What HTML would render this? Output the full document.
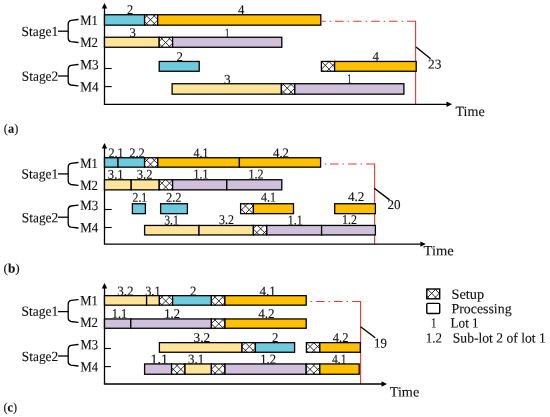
<!DOCTYPE html>
<html><head><meta charset="utf-8"><title>Gantt</title>
<style>html,body{margin:0;padding:0;background:#fff}svg{display:block}text{font-family:"Liberation Serif",serif;fill:#111;stroke:#111;stroke-width:0.12px}</style>
</head><body>
<svg width="550" height="417" viewBox="0 0 550 417">
<defs><pattern id="hatch" width="8.4" height="8.4" patternUnits="userSpaceOnUse" patternTransform="translate(2.2 1.6)"><rect width="8.4" height="8.4" fill="#fff"/><path d="M0,0 L8.4,8.4 M8.4,0 L0,8.4" stroke="#222" stroke-width="0.9" fill="none"/></pattern></defs>
<rect width="550" height="417" fill="#fff"/>
<line x1="415.60" y1="21.30" x2="322.00" y2="21.30" stroke="#E8382F" stroke-width="1.1" stroke-dasharray="8.5 4 1.5 4"/>
<line x1="415.60" y1="20.80" x2="415.60" y2="104.30" stroke="#E8382F" stroke-width="1.1"/>
<line x1="104.50" y1="6.00" x2="104.50" y2="104.30" stroke="#000" stroke-width="1.3"/>
<line x1="103.85" y1="104.30" x2="449.00" y2="104.30" stroke="#000" stroke-width="1.3"/>
<path d="M104.50,3.00 L101.80,8.50 L107.20,8.50 Z" fill="#000"/>
<path d="M452.00,104.30 L446.50,101.60 L446.50,107.00 Z" fill="#000"/>
<line x1="104.50" y1="68.50" x2="111.70" y2="68.50" stroke="#000" stroke-width="1.1"/>
<line x1="104.50" y1="86.60" x2="111.70" y2="86.60" stroke="#000" stroke-width="1.1"/>
<rect x="104.50" y="14.75" width="40.10" height="10.40" fill="#6ECBDE" stroke="#000" stroke-width="1.3"/>
<rect x="144.60" y="14.75" width="13.10" height="10.40" fill="#fff"/>
<svg x="144.60" y="14.75" width="13.10" height="10.40" viewBox="144.60 14.75 13.10 10.40">
<path d="M121.65,13.75 L134.05,26.15 M129.25,13.75 L141.65,26.15 M136.85,13.75 L149.25,26.15 M144.45,13.75 L156.85,26.15 M152.05,13.75 L164.45,26.15 M159.65,13.75 L172.05,26.15 M167.25,13.75 L179.65,26.15 M133.65,13.75 L121.25,26.15 M141.25,13.75 L128.85,26.15 M148.85,13.75 L136.45,26.15 M156.45,13.75 L144.05,26.15 M164.05,13.75 L151.65,26.15 M171.65,13.75 L159.25,26.15 M179.25,13.75 L166.85,26.15 M186.85,13.75 L174.45,26.15" stroke="#1a1a1a" stroke-width="0.9" fill="none"/>
</svg>
<rect x="144.60" y="14.75" width="13.10" height="10.40" fill="none" stroke="#000" stroke-width="1.3"/>
<rect x="157.70" y="14.75" width="163.10" height="10.40" fill="#FFC000" stroke="#000" stroke-width="1.3"/>
<rect x="104.50" y="37.25" width="54.70" height="10.00" fill="#FEE599" stroke="#000" stroke-width="1.3"/>
<rect x="159.20" y="37.25" width="13.40" height="10.00" fill="#fff"/>
<svg x="159.20" y="37.25" width="13.40" height="10.00" viewBox="159.20 37.25 13.40 10.00">
<path d="M136.55,36.25 L148.55,48.25 M144.15,36.25 L156.15,48.25 M151.75,36.25 L163.75,48.25 M159.35,36.25 L171.35,48.25 M166.95,36.25 L178.95,48.25 M174.55,36.25 L186.55,48.25 M182.15,36.25 L194.15,48.25 M149.15,36.25 L137.15,48.25 M156.75,36.25 L144.75,48.25 M164.35,36.25 L152.35,48.25 M171.95,36.25 L159.95,48.25 M179.55,36.25 L167.55,48.25 M187.15,36.25 L175.15,48.25 M194.75,36.25 L182.75,48.25" stroke="#1a1a1a" stroke-width="0.9" fill="none"/>
</svg>
<rect x="159.20" y="37.25" width="13.40" height="10.00" fill="none" stroke="#000" stroke-width="1.3"/>
<rect x="172.60" y="37.25" width="109.20" height="10.00" fill="#CFC1DB" stroke="#000" stroke-width="1.3"/>
<rect x="159.20" y="61.45" width="40.00" height="9.80" fill="#6ECBDE" stroke="#000" stroke-width="1.3"/>
<rect x="321.40" y="61.45" width="13.20" height="9.80" fill="#fff"/>
<svg x="321.40" y="61.45" width="13.20" height="9.80" viewBox="321.40 61.45 13.20 9.80">
<path d="M297.55,60.45 L309.35,72.25 M305.15,60.45 L316.95,72.25 M312.75,60.45 L324.55,72.25 M320.35,60.45 L332.15,72.25 M327.95,60.45 L339.75,72.25 M335.55,60.45 L347.35,72.25 M343.15,60.45 L354.95,72.25 M314.95,60.45 L303.15,72.25 M322.55,60.45 L310.75,72.25 M330.15,60.45 L318.35,72.25 M337.75,60.45 L325.95,72.25 M345.35,60.45 L333.55,72.25 M352.95,60.45 L341.15,72.25 M360.55,60.45 L348.75,72.25" stroke="#1a1a1a" stroke-width="0.9" fill="none"/>
</svg>
<rect x="321.40" y="61.45" width="13.20" height="9.80" fill="none" stroke="#000" stroke-width="1.3"/>
<rect x="334.60" y="61.45" width="81.60" height="9.80" fill="#FFC000" stroke="#000" stroke-width="1.3"/>
<rect x="172.10" y="83.75" width="109.30" height="10.40" fill="#FEE599" stroke="#000" stroke-width="1.3"/>
<rect x="281.40" y="83.75" width="13.40" height="10.40" fill="#fff"/>
<svg x="281.40" y="83.75" width="13.40" height="10.40" viewBox="281.40 83.75 13.40 10.40">
<path d="M259.05,82.75 L271.45,95.15 M266.65,82.75 L279.05,95.15 M274.25,82.75 L286.65,95.15 M281.85,82.75 L294.25,95.15 M289.45,82.75 L301.85,95.15 M297.05,82.75 L309.45,95.15 M304.65,82.75 L317.05,95.15 M277.45,82.75 L265.05,95.15 M285.05,82.75 L272.65,95.15 M292.65,82.75 L280.25,95.15 M300.25,82.75 L287.85,95.15 M307.85,82.75 L295.45,95.15 M315.45,82.75 L303.05,95.15 M323.05,82.75 L310.65,95.15" stroke="#1a1a1a" stroke-width="0.9" fill="none"/>
</svg>
<rect x="281.40" y="83.75" width="13.40" height="10.40" fill="none" stroke="#000" stroke-width="1.3"/>
<rect x="294.80" y="83.75" width="109.10" height="10.40" fill="#CFC1DB" stroke="#000" stroke-width="1.3"/>
<line x1="416.00" y1="47.00" x2="430.60" y2="58.80" stroke="#000" stroke-width="1.4"/>
<text x="428.10" y="68.50" font-size="13.4" textLength="13.40" lengthAdjust="spacingAndGlyphs" transform="rotate(0.05 428.10 68.50)">23</text>
<text x="455.40" y="115.90" font-size="14" textLength="29.30" lengthAdjust="spacingAndGlyphs" transform="rotate(0.05 455.40 115.90)">Time</text>
<text x="127.00" y="14.00" font-size="13.4" textLength="6.20" lengthAdjust="spacingAndGlyphs" transform="rotate(0.05 127.00 14.00)">2</text>
<text x="238.00" y="14.00" font-size="13.4" textLength="6.40" lengthAdjust="spacingAndGlyphs" transform="rotate(0.05 238.00 14.00)">4</text>
<text x="129.60" y="37.00" font-size="13.4" textLength="6.40" lengthAdjust="spacingAndGlyphs" transform="rotate(0.05 129.60 37.00)">3</text>
<text x="225.00" y="37.50" font-size="13.4" textLength="4.40" lengthAdjust="spacingAndGlyphs" transform="rotate(0.05 225.00 37.50)">1</text>
<text x="176.60" y="60.90" font-size="13.4" textLength="6.40" lengthAdjust="spacingAndGlyphs" transform="rotate(0.05 176.60 60.90)">2</text>
<text x="372.50" y="60.80" font-size="13.4" textLength="6.50" lengthAdjust="spacingAndGlyphs" transform="rotate(0.05 372.50 60.80)">4</text>
<text x="224.00" y="83.70" font-size="13.4" textLength="6.60" lengthAdjust="spacingAndGlyphs" transform="rotate(0.05 224.00 83.70)">3</text>
<text x="347.20" y="83.30" font-size="13.4" textLength="4.40" lengthAdjust="spacingAndGlyphs" transform="rotate(0.05 347.20 83.30)">1</text>
<text x="21.60" y="36.00" font-size="14" textLength="36.60" lengthAdjust="spacingAndGlyphs" transform="rotate(0.05 21.60 36.00)">Stage1</text>
<text x="80.20" y="25.00" font-size="14" textLength="17.60" lengthAdjust="spacingAndGlyphs" transform="rotate(0.05 80.20 25.00)">M1</text>
<text x="80.20" y="46.90" font-size="14" textLength="17.80" lengthAdjust="spacingAndGlyphs" transform="rotate(0.05 80.20 46.90)">M2</text>
<line x1="58.00" y1="31.20" x2="68.20" y2="31.20" stroke="#000" stroke-width="1.3"/>
<path d="M78.00,19.50 L71.00,20.30 Q68.20,20.80 68.20,24.00 L68.20,37.90 Q68.20,41.20 71.00,41.70 L78.00,42.50" fill="none" stroke="#000" stroke-width="1.3" stroke-linecap="round" stroke-linejoin="round"/>
<text x="21.80" y="80.80" font-size="14" textLength="36.40" lengthAdjust="spacingAndGlyphs" transform="rotate(0.05 21.80 80.80)">Stage2</text>
<text x="80.20" y="69.30" font-size="14" textLength="18.40" lengthAdjust="spacingAndGlyphs" transform="rotate(0.05 80.20 69.30)">M3</text>
<text x="80.20" y="91.50" font-size="14" textLength="18.40" lengthAdjust="spacingAndGlyphs" transform="rotate(0.05 80.20 91.50)">M4</text>
<line x1="58.00" y1="76.00" x2="68.20" y2="76.00" stroke="#000" stroke-width="1.3"/>
<path d="M78.00,64.50 L71.00,65.30 Q68.20,65.80 68.20,69.20 L68.20,81.80 Q68.20,84.50 71.00,85.00 L78.00,85.80" fill="none" stroke="#000" stroke-width="1.3" stroke-linecap="round" stroke-linejoin="round"/>
<text x="3.8" y="132.8" font-size="13" textLength="14.4" lengthAdjust="spacingAndGlyphs" transform="rotate(0.05 3.7 200)">(<tspan font-weight="bold">a</tspan>)</text>
<line x1="374.60" y1="164.00" x2="322.00" y2="164.00" stroke="#E8382F" stroke-width="1.1" stroke-dasharray="8.5 4 1.5 4"/>
<line x1="374.60" y1="163.50" x2="374.60" y2="244.30" stroke="#E8382F" stroke-width="1.1"/>
<line x1="104.50" y1="146.00" x2="104.50" y2="244.10" stroke="#000" stroke-width="1.3"/>
<line x1="103.85" y1="244.10" x2="422.90" y2="244.10" stroke="#000" stroke-width="1.3"/>
<path d="M104.50,143.00 L101.80,148.50 L107.20,148.50 Z" fill="#000"/>
<path d="M425.90,244.10 L420.40,241.40 L420.40,246.80 Z" fill="#000"/>
<line x1="104.50" y1="209.50" x2="111.70" y2="209.50" stroke="#000" stroke-width="1.1"/>
<line x1="104.50" y1="227.50" x2="111.70" y2="227.50" stroke="#000" stroke-width="1.1"/>
<rect x="104.50" y="157.75" width="13.50" height="9.40" fill="#6ECBDE" stroke="#000" stroke-width="1.3"/>
<rect x="118.00" y="157.75" width="26.60" height="9.40" fill="#6ECBDE" stroke="#000" stroke-width="1.3"/>
<rect x="144.60" y="157.75" width="13.20" height="9.40" fill="#fff"/>
<svg x="144.60" y="157.75" width="13.20" height="9.40" viewBox="144.60 157.75 13.20 9.40">
<path d="M127.85,156.75 L139.25,168.15 M135.45,156.75 L146.85,168.15 M143.05,156.75 L154.45,168.15 M150.65,156.75 L162.05,168.15 M158.25,156.75 L169.65,168.15 M165.85,156.75 L177.25,168.15 M173.45,156.75 L184.85,168.15 M135.05,156.75 L123.65,168.15 M142.65,156.75 L131.25,168.15 M150.25,156.75 L138.85,168.15 M157.85,156.75 L146.45,168.15 M165.45,156.75 L154.05,168.15 M173.05,156.75 L161.65,168.15 M180.65,156.75 L169.25,168.15" stroke="#1a1a1a" stroke-width="0.9" fill="none"/>
</svg>
<rect x="144.60" y="157.75" width="13.20" height="9.40" fill="none" stroke="#000" stroke-width="1.3"/>
<rect x="157.80" y="157.75" width="81.60" height="9.40" fill="#FFC000" stroke="#000" stroke-width="1.3"/>
<rect x="239.40" y="157.75" width="81.20" height="9.40" fill="#FFC000" stroke="#000" stroke-width="1.3"/>
<rect x="104.50" y="179.75" width="26.70" height="10.10" fill="#FEE599" stroke="#000" stroke-width="1.3"/>
<rect x="131.20" y="179.75" width="28.00" height="10.10" fill="#FEE599" stroke="#000" stroke-width="1.3"/>
<rect x="159.20" y="179.75" width="13.40" height="10.10" fill="#fff"/>
<svg x="159.20" y="179.75" width="13.40" height="10.10" viewBox="159.20 179.75 13.40 10.10">
<path d="M134.65,178.75 L146.75,190.85 M142.25,178.75 L154.35,190.85 M149.85,178.75 L161.95,190.85 M157.45,178.75 L169.55,190.85 M165.05,178.75 L177.15,190.85 M172.65,178.75 L184.75,190.85 M180.25,178.75 L192.35,190.85 M187.85,178.75 L199.95,190.85 M151.05,178.75 L138.95,190.85 M158.65,178.75 L146.55,190.85 M166.25,178.75 L154.15,190.85 M173.85,178.75 L161.75,190.85 M181.45,178.75 L169.35,190.85 M189.05,178.75 L176.95,190.85 M196.65,178.75 L184.55,190.85" stroke="#1a1a1a" stroke-width="0.9" fill="none"/>
</svg>
<rect x="159.20" y="179.75" width="13.40" height="10.10" fill="none" stroke="#000" stroke-width="1.3"/>
<rect x="172.60" y="179.75" width="54.20" height="10.10" fill="#CFC1DB" stroke="#000" stroke-width="1.3"/>
<rect x="226.80" y="179.75" width="55.00" height="10.10" fill="#CFC1DB" stroke="#000" stroke-width="1.3"/>
<rect x="132.40" y="203.75" width="13.00" height="9.90" fill="#6ECBDE" stroke="#000" stroke-width="1.3"/>
<rect x="160.60" y="203.75" width="26.80" height="9.90" fill="#6ECBDE" stroke="#000" stroke-width="1.3"/>
<rect x="240.60" y="203.75" width="12.80" height="9.90" fill="#fff"/>
<svg x="240.60" y="203.75" width="12.80" height="9.90" viewBox="240.60 203.75 12.80 9.90">
<path d="M219.45,202.75 L231.35,214.65 M227.05,202.75 L238.95,214.65 M234.65,202.75 L246.55,214.65 M242.25,202.75 L254.15,214.65 M249.85,202.75 L261.75,214.65 M257.45,202.75 L269.35,214.65 M265.05,202.75 L276.95,214.65 M233.45,202.75 L221.55,214.65 M241.05,202.75 L229.15,214.65 M248.65,202.75 L236.75,214.65 M256.25,202.75 L244.35,214.65 M263.85,202.75 L251.95,214.65 M271.45,202.75 L259.55,214.65 M279.05,202.75 L267.15,214.65" stroke="#1a1a1a" stroke-width="0.9" fill="none"/>
</svg>
<rect x="240.60" y="203.75" width="12.80" height="9.90" fill="none" stroke="#000" stroke-width="1.3"/>
<rect x="253.40" y="203.75" width="40.10" height="9.90" fill="#FFC000" stroke="#000" stroke-width="1.3"/>
<rect x="334.70" y="203.75" width="40.70" height="9.90" fill="#FFC000" stroke="#000" stroke-width="1.3"/>
<rect x="144.60" y="225.45" width="54.40" height="9.50" fill="#FEE599" stroke="#000" stroke-width="1.3"/>
<rect x="199.00" y="225.45" width="54.40" height="9.50" fill="#FEE599" stroke="#000" stroke-width="1.3"/>
<rect x="253.40" y="225.45" width="13.40" height="9.50" fill="#fff"/>
<svg x="253.40" y="225.45" width="13.40" height="9.50" viewBox="253.40 225.45 13.40 9.50">
<path d="M233.55,224.45 L245.05,235.95 M241.15,224.45 L252.65,235.95 M248.75,224.45 L260.25,235.95 M256.35,224.45 L267.85,235.95 M263.95,224.45 L275.45,235.95 M271.55,224.45 L283.05,235.95 M279.15,224.45 L290.65,235.95 M249.75,224.45 L238.25,235.95 M257.35,224.45 L245.85,235.95 M264.95,224.45 L253.45,235.95 M272.55,224.45 L261.05,235.95 M280.15,224.45 L268.65,235.95 M287.75,224.45 L276.25,235.95 M295.35,224.45 L283.85,235.95" stroke="#1a1a1a" stroke-width="0.9" fill="none"/>
</svg>
<rect x="253.40" y="225.45" width="13.40" height="9.50" fill="none" stroke="#000" stroke-width="1.3"/>
<rect x="266.80" y="225.45" width="54.80" height="9.50" fill="#CFC1DB" stroke="#000" stroke-width="1.3"/>
<rect x="321.60" y="225.45" width="53.80" height="9.50" fill="#CFC1DB" stroke="#000" stroke-width="1.3"/>
<line x1="374.30" y1="188.20" x2="389.60" y2="199.90" stroke="#000" stroke-width="1.4"/>
<text x="387.50" y="208.90" font-size="13.4" textLength="13.10" lengthAdjust="spacingAndGlyphs" transform="rotate(0.05 387.50 208.90)">20</text>
<text x="423.60" y="255.30" font-size="14" textLength="30.10" lengthAdjust="spacingAndGlyphs" transform="rotate(0.05 423.60 255.30)">Time</text>
<text x="108.40" y="157.30" font-size="13.4" textLength="15.30" lengthAdjust="spacingAndGlyphs" transform="rotate(0.05 108.40 157.30)">2.1</text>
<text x="129.20" y="157.30" font-size="13.4" textLength="15.60" lengthAdjust="spacingAndGlyphs" transform="rotate(0.05 129.20 157.30)">2.2</text>
<text x="193.50" y="157.30" font-size="13.4" textLength="14.90" lengthAdjust="spacingAndGlyphs" transform="rotate(0.05 193.50 157.30)">4.1</text>
<text x="273.00" y="157.30" font-size="13.4" textLength="16.00" lengthAdjust="spacingAndGlyphs" transform="rotate(0.05 273.00 157.30)">4.2</text>
<text x="107.80" y="178.80" font-size="13.4" textLength="15.90" lengthAdjust="spacingAndGlyphs" transform="rotate(0.05 107.80 178.80)">3.1</text>
<text x="136.80" y="178.80" font-size="13.4" textLength="15.80" lengthAdjust="spacingAndGlyphs" transform="rotate(0.05 136.80 178.80)">3.2</text>
<text x="193.50" y="178.60" font-size="13.4" textLength="14.90" lengthAdjust="spacingAndGlyphs" transform="rotate(0.05 193.50 178.60)">1.1</text>
<text x="248.60" y="178.60" font-size="13.4" textLength="15.00" lengthAdjust="spacingAndGlyphs" transform="rotate(0.05 248.60 178.60)">1.2</text>
<text x="132.50" y="201.70" font-size="13.4" textLength="14.70" lengthAdjust="spacingAndGlyphs" transform="rotate(0.05 132.50 201.70)">2.1</text>
<text x="166.00" y="201.70" font-size="13.4" textLength="15.60" lengthAdjust="spacingAndGlyphs" transform="rotate(0.05 166.00 201.70)">2.2</text>
<text x="261.00" y="201.50" font-size="13.4" textLength="15.00" lengthAdjust="spacingAndGlyphs" transform="rotate(0.05 261.00 201.50)">4.1</text>
<text x="348.00" y="201.00" font-size="13.4" textLength="16.40" lengthAdjust="spacingAndGlyphs" transform="rotate(0.05 348.00 201.00)">4.2</text>
<text x="164.20" y="224.40" font-size="13.4" textLength="14.80" lengthAdjust="spacingAndGlyphs" transform="rotate(0.05 164.20 224.40)">3.1</text>
<text x="219.00" y="224.00" font-size="13.4" textLength="15.00" lengthAdjust="spacingAndGlyphs" transform="rotate(0.05 219.00 224.00)">3.2</text>
<text x="287.80" y="224.40" font-size="13.4" textLength="14.80" lengthAdjust="spacingAndGlyphs" transform="rotate(0.05 287.80 224.40)">1.1</text>
<text x="342.00" y="224.00" font-size="13.4" textLength="15.00" lengthAdjust="spacingAndGlyphs" transform="rotate(0.05 342.00 224.00)">1.2</text>
<text x="21.60" y="178.40" font-size="14" textLength="36.60" lengthAdjust="spacingAndGlyphs" transform="rotate(0.05 21.60 178.40)">Stage1</text>
<text x="80.20" y="167.90" font-size="14" textLength="17.60" lengthAdjust="spacingAndGlyphs" transform="rotate(0.05 80.20 167.90)">M1</text>
<text x="80.20" y="189.90" font-size="14" textLength="17.80" lengthAdjust="spacingAndGlyphs" transform="rotate(0.05 80.20 189.90)">M2</text>
<line x1="58.00" y1="173.90" x2="68.20" y2="173.90" stroke="#000" stroke-width="1.3"/>
<path d="M78.00,162.50 L71.00,163.30 Q68.20,163.80 68.20,167.00 L68.20,180.80 Q68.20,184.00 71.00,184.50 L78.00,185.30" fill="none" stroke="#000" stroke-width="1.3" stroke-linecap="round" stroke-linejoin="round"/>
<text x="21.80" y="222.30" font-size="14" textLength="36.40" lengthAdjust="spacingAndGlyphs" transform="rotate(0.05 21.80 222.30)">Stage2</text>
<text x="80.20" y="210.00" font-size="14" textLength="18.00" lengthAdjust="spacingAndGlyphs" transform="rotate(0.05 80.20 210.00)">M3</text>
<text x="80.20" y="232.30" font-size="14" textLength="18.00" lengthAdjust="spacingAndGlyphs" transform="rotate(0.05 80.20 232.30)">M4</text>
<line x1="58.00" y1="217.20" x2="68.20" y2="217.20" stroke="#000" stroke-width="1.3"/>
<path d="M78.00,205.20 L71.00,206.00 Q68.20,206.50 68.20,209.80 L68.20,223.40 Q68.20,226.70 71.00,227.20 L78.00,228.00" fill="none" stroke="#000" stroke-width="1.3" stroke-linecap="round" stroke-linejoin="round"/>
<text x="3.6" y="272.6" font-size="13" textLength="16.2" lengthAdjust="spacingAndGlyphs" transform="rotate(0.05 3.7 200)">(<tspan font-weight="bold">b</tspan>)</text>
<line x1="360.60" y1="301.50" x2="308.00" y2="301.50" stroke="#E8382F" stroke-width="1.1" stroke-dasharray="8.5 4 1.5 4"/>
<line x1="360.60" y1="301.00" x2="360.60" y2="384.00" stroke="#E8382F" stroke-width="1.1"/>
<line x1="104.50" y1="286.00" x2="104.50" y2="384.00" stroke="#000" stroke-width="1.3"/>
<line x1="103.85" y1="384.00" x2="384.00" y2="384.00" stroke="#000" stroke-width="1.3"/>
<path d="M104.50,283.00 L101.80,288.50 L107.20,288.50 Z" fill="#000"/>
<path d="M387.00,384.00 L381.50,381.30 L381.50,386.70 Z" fill="#000"/>
<line x1="104.50" y1="348.50" x2="110.90" y2="348.50" stroke="#000" stroke-width="1.1"/>
<line x1="104.50" y1="366.60" x2="110.90" y2="366.60" stroke="#000" stroke-width="1.1"/>
<rect x="104.50" y="295.65" width="42.10" height="9.50" fill="#FEE599" stroke="#000" stroke-width="1.3"/>
<rect x="146.60" y="295.65" width="12.80" height="9.50" fill="#FEE599" stroke="#000" stroke-width="1.3"/>
<rect x="159.40" y="295.65" width="13.20" height="9.50" fill="#fff"/>
<svg x="159.40" y="295.65" width="13.20" height="9.50" viewBox="159.40 295.65 13.20 9.50">
<path d="M136.55,294.65 L148.05,306.15 M144.15,294.65 L155.65,306.15 M151.75,294.65 L163.25,306.15 M159.35,294.65 L170.85,306.15 M166.95,294.65 L178.45,306.15 M174.55,294.65 L186.05,306.15 M182.15,294.65 L193.65,306.15 M149.15,294.65 L137.65,306.15 M156.75,294.65 L145.25,306.15 M164.35,294.65 L152.85,306.15 M171.95,294.65 L160.45,306.15 M179.55,294.65 L168.05,306.15 M187.15,294.65 L175.65,306.15 M194.75,294.65 L183.25,306.15" stroke="#1a1a1a" stroke-width="0.9" fill="none"/>
</svg>
<rect x="159.40" y="295.65" width="13.20" height="9.50" fill="none" stroke="#000" stroke-width="1.3"/>
<rect x="172.60" y="295.65" width="38.80" height="9.50" fill="#6ECBDE" stroke="#000" stroke-width="1.3"/>
<rect x="211.40" y="295.65" width="13.50" height="9.50" fill="#fff"/>
<svg x="211.40" y="295.65" width="13.50" height="9.50" viewBox="211.40 295.65 13.50 9.50">
<path d="M189.75,294.65 L201.25,306.15 M197.35,294.65 L208.85,306.15 M204.95,294.65 L216.45,306.15 M212.55,294.65 L224.05,306.15 M220.15,294.65 L231.65,306.15 M227.75,294.65 L239.25,306.15 M235.35,294.65 L246.85,306.15 M202.35,294.65 L190.85,306.15 M209.95,294.65 L198.45,306.15 M217.55,294.65 L206.05,306.15 M225.15,294.65 L213.65,306.15 M232.75,294.65 L221.25,306.15 M240.35,294.65 L228.85,306.15 M247.95,294.65 L236.45,306.15" stroke="#1a1a1a" stroke-width="0.9" fill="none"/>
</svg>
<rect x="211.40" y="295.65" width="13.50" height="9.50" fill="none" stroke="#000" stroke-width="1.3"/>
<rect x="224.90" y="295.65" width="81.30" height="9.50" fill="#FFC000" stroke="#000" stroke-width="1.3"/>
<rect x="104.50" y="318.95" width="26.30" height="9.30" fill="#CFC1DB" stroke="#000" stroke-width="1.3"/>
<rect x="130.80" y="318.95" width="80.60" height="9.30" fill="#CFC1DB" stroke="#000" stroke-width="1.3"/>
<rect x="211.40" y="318.95" width="13.60" height="9.30" fill="#fff"/>
<svg x="211.40" y="318.95" width="13.60" height="9.30" viewBox="211.40 318.95 13.60 9.30">
<path d="M190.25,317.95 L201.55,329.25 M197.85,317.95 L209.15,329.25 M205.45,317.95 L216.75,329.25 M213.05,317.95 L224.35,329.25 M220.65,317.95 L231.95,329.25 M228.25,317.95 L239.55,329.25 M235.85,317.95 L247.15,329.25 M201.85,317.95 L190.55,329.25 M209.45,317.95 L198.15,329.25 M217.05,317.95 L205.75,329.25 M224.65,317.95 L213.35,329.25 M232.25,317.95 L220.95,329.25 M239.85,317.95 L228.55,329.25 M247.45,317.95 L236.15,329.25" stroke="#1a1a1a" stroke-width="0.9" fill="none"/>
</svg>
<rect x="211.40" y="318.95" width="13.60" height="9.30" fill="none" stroke="#000" stroke-width="1.3"/>
<rect x="225.00" y="318.95" width="81.20" height="9.30" fill="#FFC000" stroke="#000" stroke-width="1.3"/>
<rect x="159.40" y="342.65" width="82.60" height="9.60" fill="#FEE599" stroke="#000" stroke-width="1.3"/>
<rect x="242.00" y="342.65" width="13.40" height="9.60" fill="#fff"/>
<svg x="242.00" y="342.65" width="13.40" height="9.60" viewBox="242.00 342.65 13.40 9.60">
<path d="M221.55,341.65 L233.15,353.25 M229.15,341.65 L240.75,353.25 M236.75,341.65 L248.35,353.25 M244.35,341.65 L255.95,353.25 M251.95,341.65 L263.55,353.25 M259.55,341.65 L271.15,353.25 M267.15,341.65 L278.75,353.25 M231.35,341.65 L219.75,353.25 M238.95,341.65 L227.35,353.25 M246.55,341.65 L234.95,353.25 M254.15,341.65 L242.55,353.25 M261.75,341.65 L250.15,353.25 M269.35,341.65 L257.75,353.25 M276.95,341.65 L265.35,353.25" stroke="#1a1a1a" stroke-width="0.9" fill="none"/>
</svg>
<rect x="242.00" y="342.65" width="13.40" height="9.60" fill="none" stroke="#000" stroke-width="1.3"/>
<rect x="255.40" y="342.65" width="39.20" height="9.60" fill="#6ECBDE" stroke="#000" stroke-width="1.3"/>
<rect x="306.40" y="342.65" width="13.40" height="9.60" fill="#fff"/>
<svg x="306.40" y="342.65" width="13.40" height="9.60" viewBox="306.40 342.65 13.40 9.60">
<path d="M282.35,341.65 L293.95,353.25 M289.95,341.65 L301.55,353.25 M297.55,341.65 L309.15,353.25 M305.15,341.65 L316.75,353.25 M312.75,341.65 L324.35,353.25 M320.35,341.65 L331.95,353.25 M327.95,341.65 L339.55,353.25 M299.75,341.65 L288.15,353.25 M307.35,341.65 L295.75,353.25 M314.95,341.65 L303.35,353.25 M322.55,341.65 L310.95,353.25 M330.15,341.65 L318.55,353.25 M337.75,341.65 L326.15,353.25 M345.35,341.65 L333.75,353.25" stroke="#1a1a1a" stroke-width="0.9" fill="none"/>
</svg>
<rect x="306.40" y="342.65" width="13.40" height="9.60" fill="none" stroke="#000" stroke-width="1.3"/>
<rect x="319.80" y="342.65" width="40.50" height="9.60" fill="#FFC000" stroke="#000" stroke-width="1.3"/>
<rect x="144.60" y="363.95" width="27.00" height="10.30" fill="#CFC1DB" stroke="#000" stroke-width="1.3"/>
<rect x="171.60" y="363.95" width="13.40" height="10.30" fill="#fff"/>
<svg x="171.60" y="363.95" width="13.40" height="10.30" viewBox="171.60 363.95 13.40 10.30">
<path d="M151.65,362.95 L163.95,375.25 M159.25,362.95 L171.55,375.25 M166.85,362.95 L179.15,375.25 M174.45,362.95 L186.75,375.25 M182.05,362.95 L194.35,375.25 M189.65,362.95 L201.95,375.25 M197.25,362.95 L209.55,375.25 M164.45,362.95 L152.15,375.25 M172.05,362.95 L159.75,375.25 M179.65,362.95 L167.35,375.25 M187.25,362.95 L174.95,375.25 M194.85,362.95 L182.55,375.25 M202.45,362.95 L190.15,375.25 M210.05,362.95 L197.75,375.25" stroke="#1a1a1a" stroke-width="0.9" fill="none"/>
</svg>
<rect x="171.60" y="363.95" width="13.40" height="10.30" fill="none" stroke="#000" stroke-width="1.3"/>
<rect x="185.00" y="363.95" width="26.40" height="10.30" fill="#FEE599" stroke="#000" stroke-width="1.3"/>
<rect x="211.40" y="363.95" width="13.60" height="10.30" fill="#fff"/>
<svg x="211.40" y="363.95" width="13.60" height="10.30" viewBox="211.40 363.95 13.60 10.30">
<path d="M189.65,362.95 L201.95,375.25 M197.25,362.95 L209.55,375.25 M204.85,362.95 L217.15,375.25 M212.45,362.95 L224.75,375.25 M220.05,362.95 L232.35,375.25 M227.65,362.95 L239.95,375.25 M235.25,362.95 L247.55,375.25 M202.45,362.95 L190.15,375.25 M210.05,362.95 L197.75,375.25 M217.65,362.95 L205.35,375.25 M225.25,362.95 L212.95,375.25 M232.85,362.95 L220.55,375.25 M240.45,362.95 L228.15,375.25 M248.05,362.95 L235.75,375.25" stroke="#1a1a1a" stroke-width="0.9" fill="none"/>
</svg>
<rect x="211.40" y="363.95" width="13.60" height="10.30" fill="none" stroke="#000" stroke-width="1.3"/>
<rect x="225.00" y="363.95" width="81.20" height="10.30" fill="#CFC1DB" stroke="#000" stroke-width="1.3"/>
<rect x="306.20" y="363.95" width="13.60" height="10.30" fill="#fff"/>
<svg x="306.20" y="363.95" width="13.60" height="10.30" viewBox="306.20 363.95 13.60 10.30">
<path d="M288.45,362.95 L300.75,375.25 M296.05,362.95 L308.35,375.25 M303.65,362.95 L315.95,375.25 M311.25,362.95 L323.55,375.25 M318.85,362.95 L331.15,375.25 M326.45,362.95 L338.75,375.25 M334.05,362.95 L346.35,375.25 M301.25,362.95 L288.95,375.25 M308.85,362.95 L296.55,375.25 M316.45,362.95 L304.15,375.25 M324.05,362.95 L311.75,375.25 M331.65,362.95 L319.35,375.25 M339.25,362.95 L326.95,375.25 M346.85,362.95 L334.55,375.25" stroke="#1a1a1a" stroke-width="0.9" fill="none"/>
</svg>
<rect x="306.20" y="363.95" width="13.60" height="10.30" fill="none" stroke="#000" stroke-width="1.3"/>
<rect x="319.80" y="363.95" width="39.40" height="10.30" fill="#FFC000" stroke="#000" stroke-width="1.3"/>
<line x1="360.60" y1="326.80" x2="375.20" y2="337.80" stroke="#000" stroke-width="1.4"/>
<text x="374.00" y="347.60" font-size="13.4" textLength="12.80" lengthAdjust="spacingAndGlyphs" transform="rotate(0.05 374.00 347.60)">19</text>
<text x="389.70" y="396.50" font-size="14" textLength="29.60" lengthAdjust="spacingAndGlyphs" transform="rotate(0.05 389.70 396.50)">Time</text>
<text x="117.20" y="295.40" font-size="13.4" textLength="16.40" lengthAdjust="spacingAndGlyphs" transform="rotate(0.05 117.20 295.40)">3.2</text>
<text x="145.20" y="295.40" font-size="13.4" textLength="15.40" lengthAdjust="spacingAndGlyphs" transform="rotate(0.05 145.20 295.40)">3.1</text>
<text x="190.00" y="295.40" font-size="13.4" textLength="6.40" lengthAdjust="spacingAndGlyphs" transform="rotate(0.05 190.00 295.40)">2</text>
<text x="259.40" y="295.40" font-size="13.4" textLength="16.40" lengthAdjust="spacingAndGlyphs" transform="rotate(0.05 259.40 295.40)">4.1</text>
<text x="111.80" y="317.90" font-size="13.4" textLength="15.50" lengthAdjust="spacingAndGlyphs" transform="rotate(0.05 111.80 317.90)">1.1</text>
<text x="164.30" y="317.90" font-size="13.4" textLength="15.80" lengthAdjust="spacingAndGlyphs" transform="rotate(0.05 164.30 317.90)">1.2</text>
<text x="258.20" y="317.90" font-size="13.4" textLength="16.40" lengthAdjust="spacingAndGlyphs" transform="rotate(0.05 258.20 317.90)">4.2</text>
<text x="193.60" y="342.00" font-size="13.4" textLength="16.60" lengthAdjust="spacingAndGlyphs" transform="rotate(0.05 193.60 342.00)">3.2</text>
<text x="272.00" y="342.00" font-size="13.4" textLength="6.40" lengthAdjust="spacingAndGlyphs" transform="rotate(0.05 272.00 342.00)">2</text>
<text x="332.80" y="342.00" font-size="13.4" textLength="15.70" lengthAdjust="spacingAndGlyphs" transform="rotate(0.05 332.80 342.00)">4.2</text>
<text x="150.60" y="363.60" font-size="13.4" textLength="17.40" lengthAdjust="spacingAndGlyphs" transform="rotate(0.05 150.60 363.60)">1.1</text>
<text x="188.00" y="363.60" font-size="13.4" textLength="16.10" lengthAdjust="spacingAndGlyphs" transform="rotate(0.05 188.00 363.60)">3.1</text>
<text x="260.30" y="363.60" font-size="13.4" textLength="15.80" lengthAdjust="spacingAndGlyphs" transform="rotate(0.05 260.30 363.60)">1.2</text>
<text x="332.00" y="363.40" font-size="13.4" textLength="14.50" lengthAdjust="spacingAndGlyphs" transform="rotate(0.05 332.00 363.40)">4.1</text>
<text x="21.60" y="315.70" font-size="14" textLength="36.60" lengthAdjust="spacingAndGlyphs" transform="rotate(0.05 21.60 315.70)">Stage1</text>
<text x="80.20" y="305.20" font-size="14" textLength="17.60" lengthAdjust="spacingAndGlyphs" transform="rotate(0.05 80.20 305.20)">M1</text>
<text x="80.20" y="327.10" font-size="14" textLength="17.80" lengthAdjust="spacingAndGlyphs" transform="rotate(0.05 80.20 327.10)">M2</text>
<line x1="58.00" y1="311.60" x2="68.20" y2="311.60" stroke="#000" stroke-width="1.3"/>
<path d="M78.00,299.60 L71.00,300.40 Q68.20,300.90 68.20,304.20 L68.20,317.80 Q68.20,321.00 71.00,321.50 L78.00,322.30" fill="none" stroke="#000" stroke-width="1.3" stroke-linecap="round" stroke-linejoin="round"/>
<text x="21.80" y="361.00" font-size="14" textLength="36.40" lengthAdjust="spacingAndGlyphs" transform="rotate(0.05 21.80 361.00)">Stage2</text>
<text x="80.40" y="349.30" font-size="14" textLength="17.60" lengthAdjust="spacingAndGlyphs" transform="rotate(0.05 80.40 349.30)">M3</text>
<text x="80.40" y="371.40" font-size="14" textLength="17.60" lengthAdjust="spacingAndGlyphs" transform="rotate(0.05 80.40 371.40)">M4</text>
<line x1="58.00" y1="356.00" x2="68.20" y2="356.00" stroke="#000" stroke-width="1.3"/>
<path d="M78.00,344.50 L71.00,345.30 Q68.20,345.80 68.20,349.20 L68.20,361.80 Q68.20,364.70 71.00,365.20 L78.00,366.00" fill="none" stroke="#000" stroke-width="1.3" stroke-linecap="round" stroke-linejoin="round"/>
<text x="3.6" y="411.5" font-size="13" textLength="13.6" lengthAdjust="spacingAndGlyphs" transform="rotate(0.05 3.7 200)">(<tspan font-weight="bold">c</tspan>)</text>
<rect x="426.80" y="289.00" width="12.90" height="9.80" fill="#fff"/>
<svg x="426.80" y="289.00" width="12.90" height="9.80" viewBox="426.80 289.00 12.90 9.80">
<path d="M403.50,288.00 L415.30,299.80 M411.10,288.00 L422.90,299.80 M418.70,288.00 L430.50,299.80 M426.30,288.00 L438.10,299.80 M433.90,288.00 L445.70,299.80 M441.50,288.00 L453.30,299.80 M449.10,288.00 L460.90,299.80 M421.80,288.00 L410.00,299.80 M429.40,288.00 L417.60,299.80 M437.00,288.00 L425.20,299.80 M444.60,288.00 L432.80,299.80 M452.20,288.00 L440.40,299.80 M459.80,288.00 L448.00,299.80 M467.40,288.00 L455.60,299.80" stroke="#1a1a1a" stroke-width="0.9" fill="none"/>
</svg>
<rect x="426.80" y="289.00" width="12.90" height="9.80" fill="none" stroke="#000" stroke-width="1.4"/>
<rect x="426.8" y="303.4" width="12.9" height="10.1" rx="0.9" fill="#fff" stroke="#000" stroke-width="1.4"/>
<text x="451.50" y="298.70" font-size="14" textLength="32.70" lengthAdjust="spacingAndGlyphs" transform="rotate(0.05 451.50 298.70)">Setup</text>
<text x="451.50" y="313.30" font-size="14" textLength="60.10" lengthAdjust="spacingAndGlyphs" transform="rotate(0.05 451.50 313.30)">Processing</text>
<text x="431.00" y="327.60" font-size="14" textLength="5.40" lengthAdjust="spacingAndGlyphs" transform="rotate(0.05 431.00 327.60)">1</text>
<text x="450.60" y="327.60" font-size="14" textLength="28.00" lengthAdjust="spacingAndGlyphs" transform="rotate(0.05 450.60 327.60)">Lot 1</text>
<text x="425.80" y="342.40" font-size="14" textLength="16.20" lengthAdjust="spacingAndGlyphs" transform="rotate(0.05 425.80 342.40)">1.2</text>
<text x="452.80" y="342.40" font-size="14" textLength="93.00" lengthAdjust="spacingAndGlyphs" transform="rotate(0.05 452.80 342.40)">Sub-lot 2 of lot 1</text>
</svg></body></html>
